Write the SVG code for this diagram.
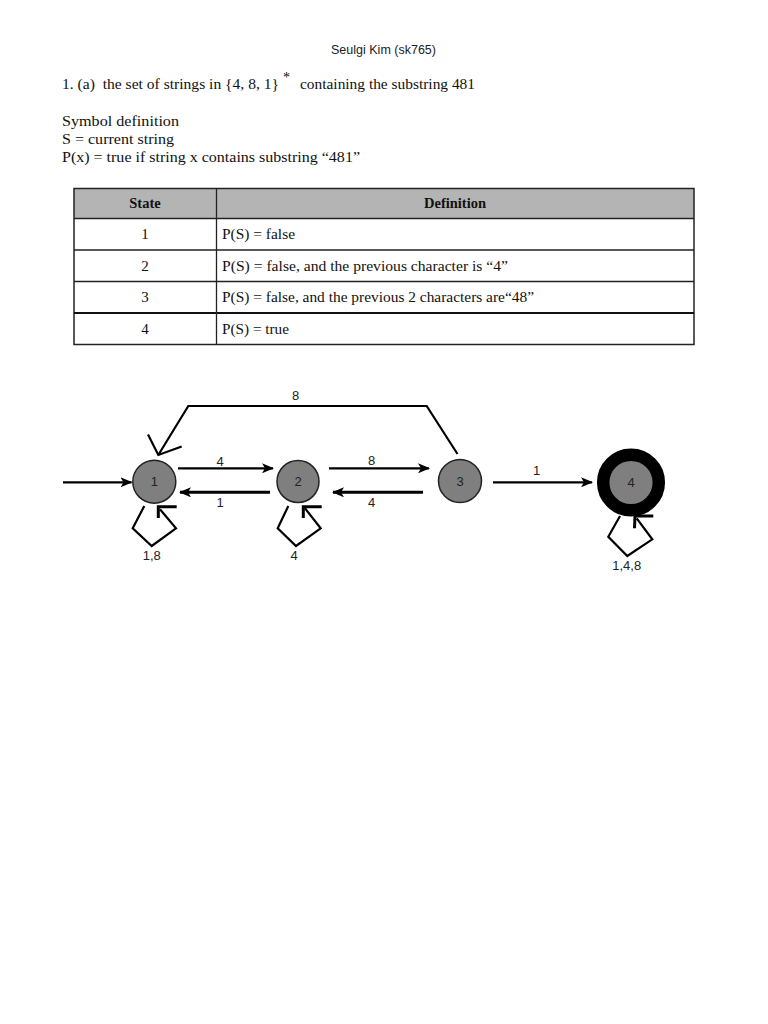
<svg xmlns="http://www.w3.org/2000/svg" width="768" height="1024" viewBox="0 0 768 1024">
<style>
.serif{font-family:"Liberation Serif","Times New Roman",serif;fill:#111}
.sans{font-family:"Liberation Sans",Arial,sans-serif;fill:#222}
.cell{font-size:15px}
.hdr{font-size:14.5px;font-weight:bold;text-anchor:middle}
.lbl{font-size:13px;text-anchor:middle}
.node{fill:#7f7f7f;stroke:#222;stroke-width:1.5}
.edge{fill:none;stroke:#000;stroke-width:2.2}
.thick{stroke-width:3}
.grid{stroke:#222;stroke-width:1.3}
</style>
<defs>
<marker id="ah" markerUnits="userSpaceOnUse" markerWidth="12" markerHeight="10" refX="11" refY="5" orient="auto">
<path d="M0,0 L12,5 L0,10 L3,5 Z" fill="#000"/>
</marker>
</defs>
<rect width="768" height="1024" fill="#fff"/>
<text class="sans" x="331" y="54" font-size="12.5" textLength="105" lengthAdjust="spacingAndGlyphs">Seulgi Kim (sk765)</text>
<text class="serif" x="62" y="89" font-size="15" textLength="217" lengthAdjust="spacingAndGlyphs" style="white-space:pre">1. (a)  the set of strings in {4, 8, 1}</text>
<text class="serif" x="283" y="82" font-size="14">*</text>
<text class="serif" x="300" y="89" font-size="15" textLength="175" lengthAdjust="spacingAndGlyphs">containing the substring 481</text>
<text class="serif" x="62" y="126" font-size="15" textLength="117" lengthAdjust="spacingAndGlyphs">Symbol definition</text>
<text class="serif" x="62" y="144" font-size="15" textLength="112" lengthAdjust="spacingAndGlyphs">S = current string</text>
<text class="serif" x="62" y="162" font-size="15" textLength="298" lengthAdjust="spacingAndGlyphs">P(x) = true if string x contains substring “481”</text>
<g id="table">
<rect x="74" y="188.5" width="620" height="30" fill="#b4b4b4"/>
<rect x="74" y="188.5" width="620" height="156" fill="none" stroke="#222" stroke-width="1.5"/>
<line class="grid" x1="74" y1="218.5" x2="694" y2="218.5"/>
<line class="grid" x1="74" y1="250" x2="694" y2="250"/>
<line class="grid" x1="74" y1="281.5" x2="694" y2="281.5"/>
<line x1="74" y1="313" x2="694" y2="313" stroke="#111" stroke-width="2"/>
<line class="grid" x1="216.5" y1="188.5" x2="216.5" y2="344.5"/>
<text class="serif hdr" x="145" y="208">State</text>
<text class="serif hdr" x="455" y="208">Definition</text>
<text class="serif cell" x="145" y="239" text-anchor="middle">1</text>
<text class="serif cell" x="145" y="271" text-anchor="middle">2</text>
<text class="serif cell" x="145" y="302" text-anchor="middle">3</text>
<text class="serif cell" x="145" y="334" text-anchor="middle">4</text>
<text class="serif cell" x="222" y="239" textLength="73" lengthAdjust="spacingAndGlyphs">P(S) = false</text>
<text class="serif cell" x="222" y="271" textLength="286" lengthAdjust="spacingAndGlyphs">P(S) = false, and the previous character is “4”</text>
<text class="serif cell" x="222" y="302" textLength="312" lengthAdjust="spacingAndGlyphs">P(S) = false, and the previous 2 characters are“48”</text>
<text class="serif cell" x="222" y="334" textLength="67" lengthAdjust="spacingAndGlyphs">P(S) = true</text>
</g>
<g id="connectors">
<line class="edge" x1="63" y1="482.3" x2="131.5" y2="482.3" marker-end="url(#ah)"/>
<line class="edge" x1="178" y1="468.3" x2="273" y2="468.3" marker-end="url(#ah)"/>
<line class="edge thick" x1="270" y1="492.3" x2="180" y2="492.3" marker-end="url(#ah)"/>
<line class="edge" x1="329" y1="468.3" x2="429" y2="468.3" marker-end="url(#ah)"/>
<line class="edge thick" x1="423" y1="492.3" x2="333" y2="492.3" marker-end="url(#ah)"/>
<line class="edge" x1="493" y1="482.3" x2="592" y2="482.3" marker-end="url(#ah)"/>
<polyline class="edge" points="457.5,454 426.7,406 188.3,406 158.3,455"/>
<polyline class="edge" points="148,434.5 158.3,455 181.7,446.5"/>
<polyline class="edge" points="144.3,506 132.7,528.3 151.7,546 176,528.3 160,509.3"/>
<polyline class="edge thick" points="176.7,506.7 158.3,506.7 158.3,518"/>
<polyline class="edge" points="288.3,506 277.7,528.3 296,546 320.7,528.3 305,508.3"/>
<polyline class="edge thick" points="321.7,506.7 303.3,506.7 303.3,518"/>
<polyline class="edge" points="620,516 608.3,536.7 627.3,556 652.3,539.3 636.7,518.3"/>
<polyline class="edge thick" points="653.3,516 635,516 634.5,528.3"/>
<text class="sans lbl" x="295.7" y="400">8</text>
<text class="sans lbl" x="220" y="466">4</text>
<text class="sans lbl" x="220" y="507">1</text>
<text class="sans lbl" x="371.7" y="465">8</text>
<text class="sans lbl" x="371.7" y="507">4</text>
<text class="sans lbl" x="536.7" y="475">1</text>
<text class="sans lbl" x="151.7" y="560">1,8</text>
<text class="sans lbl" x="294" y="560">4</text>
<text class="sans lbl" x="626.7" y="570">1,4,8</text>
</g>
<g id="node1"><circle class="node" cx="154.3" cy="481.7" r="21.5"/><text class="sans lbl" x="154.3" y="486">1</text></g>
<g id="node2"><circle class="node" cx="298" cy="481.5" r="21"/><text class="sans lbl" x="298" y="486">2</text></g>
<g id="node3"><circle class="node" cx="460" cy="481" r="21.5"/><text class="sans lbl" x="460" y="485.5">3</text></g>
<g id="node4"><circle cx="631" cy="482.5" r="27.8" fill="#7f7f7f" stroke="#000" stroke-width="12.5"/><text class="sans lbl" x="631" y="487">4</text></g>
</svg>
